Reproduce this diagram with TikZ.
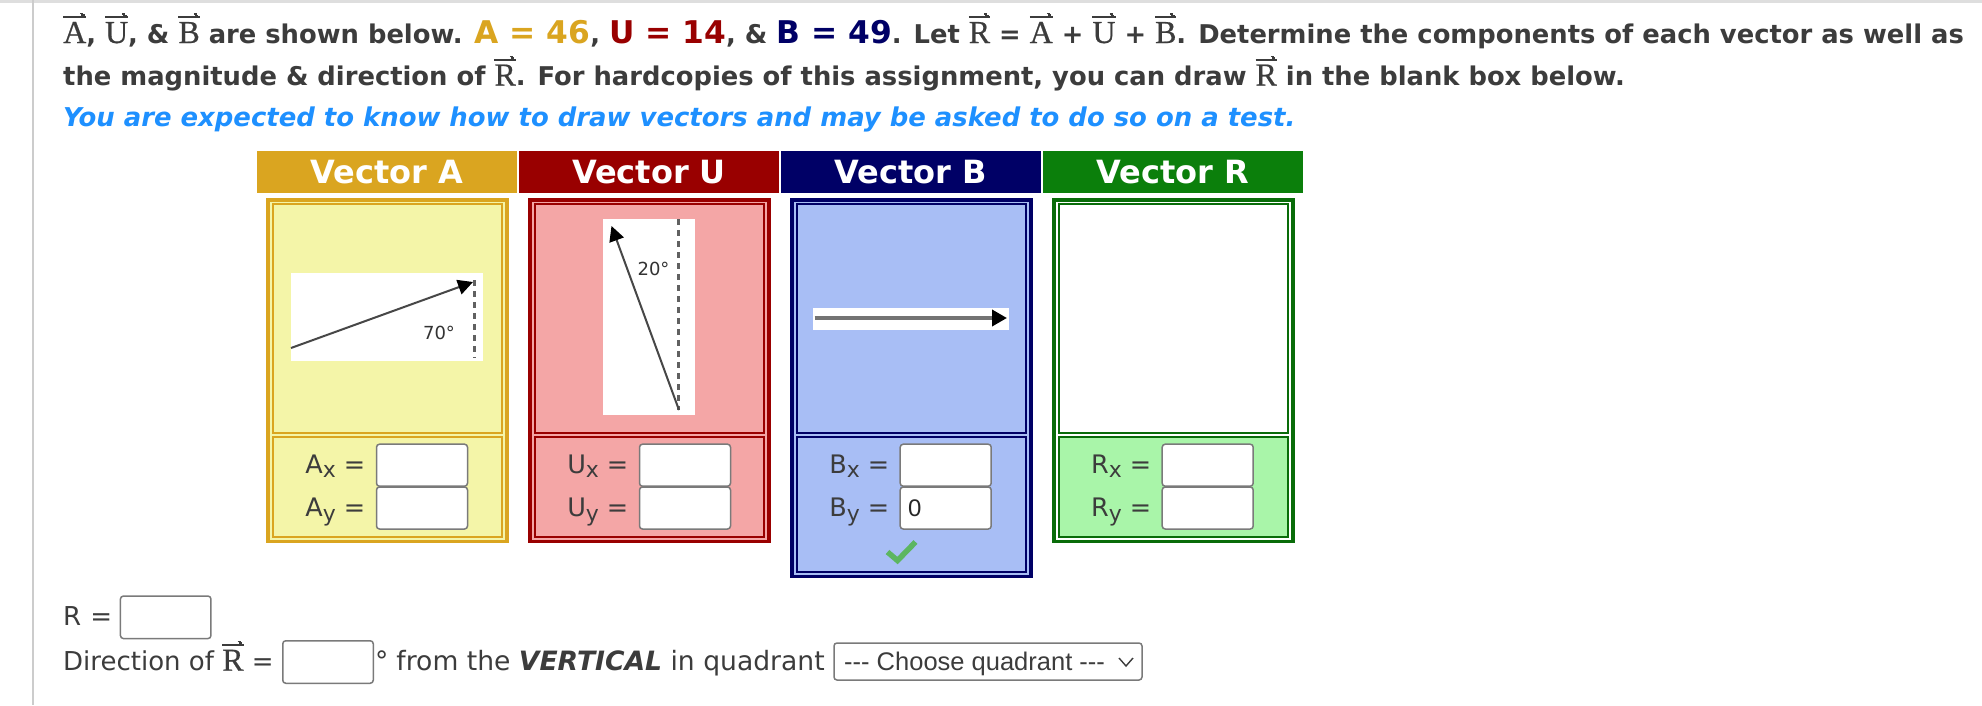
\documentclass[tikz,border=0pt]{standalone}
\usepackage{fontspec}
\usetikzlibrary{arrows.meta}
\setmainfont{DejaVu Sans}
\newfontfamily\vecserif[FakeBold=0.6]{Liberation Serif}
\newfontfamily\selfont{Liberation Sans}
\definecolor{body}{HTML}{3C3C3C}
\definecolor{gold}{HTML}{DAA520}
\definecolor{dred}{HTML}{990000}
\definecolor{navyb}{HTML}{000066}
\definecolor{grn}{HTML}{0B7F0B}
\definecolor{skyb}{HTML}{1E90FF}
\definecolor{fA}{HTML}{F4F5A8}
\definecolor{fU}{HTML}{F4A6A6}
\definecolor{fB}{HTML}{A8BEF5}
\definecolor{fR}{HTML}{A9F5A9}
\newcommand{\fs}[1]{\fontsize{#1}{#1}\selectfont}
\newsavebox{\vvbox}
\newcommand{\vv}[1]{{\sbox{\vvbox}{\fs{32}\vecserif\mdseries\upshape\color{body}#1}%
  \leavevmode\vbox{\offinterlineskip\color{body}%
    \hbox to \wd\vvbox{\hfil\rule{3pt}{1.6pt}\kern3pt}%
    \hbox to \wd\vvbox{\hfil\rule{3.5pt}{1.6pt}\kern1.5pt}%
    \hbox to \wd\vvbox{\hfil\rule{\wd\vvbox}{1.8pt}\hfil}%
    \kern4pt\hbox{\usebox{\vvbox}}}}}
\newcommand{\lbl}[2]{#1\raisebox{-4.5pt}{\fs{22}#2}\hspace{8pt}=}
\tikzset{
  txt/.style={anchor=base west,inner sep=0pt,text=body},
  hdr/.style={minimum width=260,minimum height=42,inner sep=0pt,text=white,font=\fs{32}\bfseries},
  inbox/.style={draw=black!52,line width=1.5pt,rounded corners=3pt,fill=white,minimum width=91pt,minimum height=42pt,inner sep=0pt},
  lab/.style={anchor=base east,inner sep=0pt,text=body,font=\fs{25.5}},
  ang/.style={inner sep=0pt,text=black!80,font=\fs{18}},
  vecline/.style={draw=black!72,line width=2pt},
  tip/.style={-{Triangle[length=15pt,width=15pt,color=black]}},
  dashline/.style={draw=black!62,line width=2.4pt,dash pattern=on 6pt off 5pt},
}
\newcommand{\panel}[8]{% x0 x1 y-bottom-outer y-bottom-inner color fill upper-fill gap
  \fill[#5] (#1,198) rectangle (#2,#3);
  \fill[#8] (#1+4,201.5) rectangle (#2-4,#3-3.5);
  \fill[#5] (#1+6,203) rectangle (#2-6,433.5);
  \fill[#7] (#1+8,205) rectangle (#2-8,431.5);
  \fill[#5] (#1+6,436) rectangle (#2-6,#4);
  \fill[#6] (#1+8,438) rectangle (#2-8,#4-2);
}
\begin{document}
\begin{tikzpicture}[x=1pt,y=-1pt]
\useasboundingbox (0,0) rectangle (1982,705);
\fill[white] (0,0) rectangle (1982,705);
\fill[black!13] (0,0) rectangle (1982,2.5);
\fill[black!20] (32,0) rectangle (34,705);
% text
\node[txt,font=\fs{25.8}\bfseries] (l1) at (63,43) {\vv{A}, \vv{U}, \& \vv{B} are shown below. {\fs{31.3}\color{gold}A = 46}, {\fs{31.3}\color{dred}U = 14}, \& {\fs{31.3}\color{navyb}B = 49}. Let \vv{R} = \vv{A} + \vv{U} + \vv{B}. Determine the components of each vector as well as};
\node[txt,font=\fs{25.8}\bfseries] (l2) at (63,85.5) {the magnitude \& direction of \vv{R}. For hardcopies of this assignment, you can draw \vv{R} in the blank box below.};
\node[txt,text=skyb,font=\fs{25.9}\bfseries\itshape] (l3) at (63,126) {You are expected to know how to draw vectors and may be asked to do so on a test.};
% headers
\node[hdr,fill=gold] (hA) at (387,172) {Vector A};
\node[hdr,fill=dred] (hU) at (649,172) {Vector U};
\node[hdr,fill=navyb] (hB) at (911,172) {Vector B};
\node[hdr,fill=grn] (hR) at (1173,172) {Vector R};
% panels
\panel{266}{508.6}{543}{537.5}{gold}{fA}{fA}{fA}
\panel{528}{770.7}{543}{537.5}{dred}{fU}{fU}{fU}
\panel{790}{1033}{578}{573}{navyb}{fB}{fB}{fB}
\panel{1052}{1295}{543}{537.5}{grn!85!black}{fR}{white}{white}
% vector A image
\fill[white] (291,272.5) rectangle (483,361);
\coordinate (a0) at (291,348);
\coordinate (a1) at (473,282);
\coordinate (ad0) at (474.5,280);
\coordinate (ad1) at (474.5,358);
\draw[dashline] (ad0) -- (ad1);
\draw[vecline,tip] (a0) -- (a1);
\node[ang] (aa) at (439,333) {70°};
% vector U image
\fill[white] (603,219) rectangle (695,415);
\coordinate (u0) at (679,410);
\coordinate (u1) at (611.5,226);
\coordinate (ud0) at (678.5,219);
\coordinate (ud1) at (678.5,410);
\draw[dashline] (ud0) -- (ud1);
\draw[vecline,tip] (u0) -- (u1);
\node[ang] (ua) at (653.5,269) {20°};
% vector B image
\fill[white] (813,307.5) rectangle (1009,330);
\coordinate (b0) at (814.5,318);
\coordinate (b1) at (1007,318);
\draw[draw=black!55,line width=3.6pt,-{Triangle[length=15pt,width=16pt,color=black]}] (b0) -- (b1);
% inputs
\node[inbox] (ax) at (422,465.2) {};
\node[inbox] (ay) at (422,508) {};
\node[inbox] (ux) at (685,465.2) {};
\node[inbox] (uy) at (685,508) {};
\node[inbox] (bx) at (945.7,465.2) {};
\node[inbox] (by) at (945.7,508) {};
\node[inbox] (rx) at (1207.7,465.2) {};
\node[inbox] (ry) at (1207.7,508) {};
\node[lab] (lax) at (365.5,473) {\lbl{A}{x}};
\node[lab] (lay) at (365.5,516.5) {\lbl{A}{y}};
\node[lab] (lux) at (628.5,473) {\lbl{U}{x}};
\node[lab] (luy) at (628.5,516.5) {\lbl{U}{y}};
\node[lab] (lbx) at (889.5,473) {\lbl{B}{x}};
\node[lab] (lby) at (889.5,516.5) {\lbl{B}{y}};
\node[lab] (lrx) at (1151.5,473) {\lbl{R}{x}};
\node[lab] (lry) at (1151.5,516.5) {\lbl{R}{y}};
\node[anchor=base west,inner sep=0pt,text=black!85,font=\fs{24}\selfont] (zero) at (908,516.5) {0};
% check mark
\draw[line width=5.5pt,color={rgb,255:red,92;green,182;blue,96},line join=miter] (887.5,552) -- (897.5,560.5) -- (915.5,542);
% bottom
\node[txt,font=\fs{26}] (rl) at (63,625.7) {R\hspace{9pt}=};
\node[inbox,minimum width=90.5pt,minimum height=42.5pt] (rb) at (165.7,617.3) {};
\node[txt,font=\fs{26}] (dl) at (63,670.7) {Direction of \vv{R} =};
\node[inbox,minimum width=90.5pt,minimum height=42.5pt] (db) at (328,662) {};
\node[txt,font=\fs{26.6}] (ft) at (375,670.7) {°\hspace{8pt}from the \textbf{\textit{VERTICAL}} in quadrant};
\node[inbox,minimum width=308pt,minimum height=37pt] (sel) at (988,661.5) {};
\node[anchor=base west,inner sep=0pt,text=body,font=\fs{25.5}\selfont] (st) at (844,670) {--{}- Choose quadrant --{}-};
\coordinate (c0) at (1119,658);
\coordinate (c1) at (1126,666);
\coordinate (c2) at (1133,658);
\draw[draw=body,line width=1.4pt] (c0) -- (c1) -- (c2);
\end{tikzpicture}
\end{document}
